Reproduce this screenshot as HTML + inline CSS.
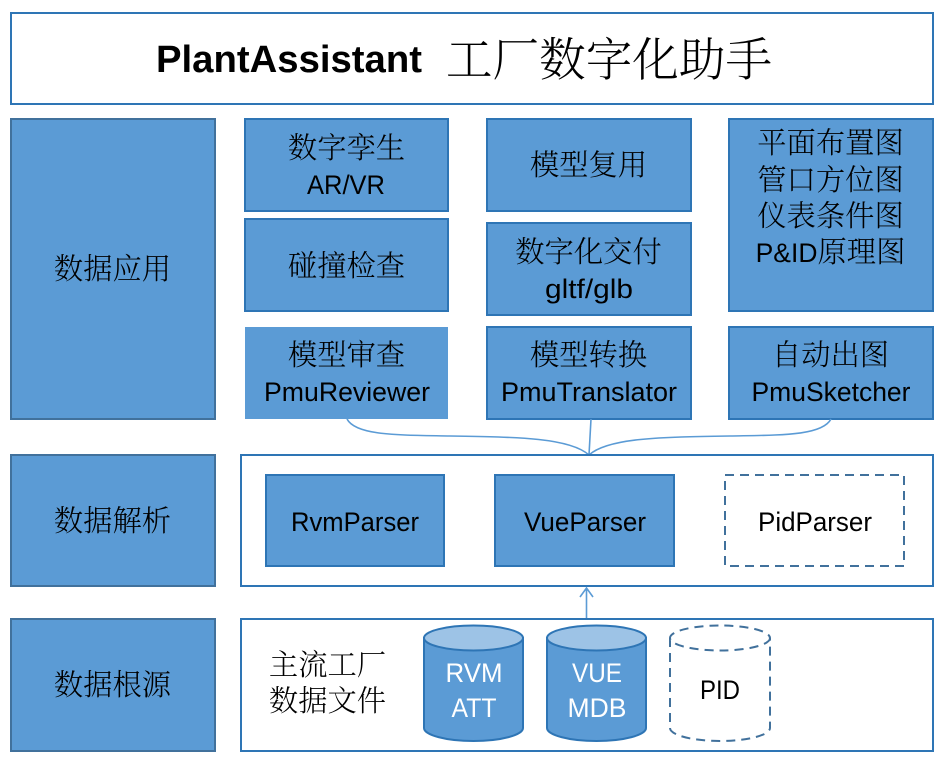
<!DOCTYPE html>
<html>
<head>
<meta charset="utf-8">
<style>
html,body{margin:0;padding:0;background:#fff;width:948px;height:762px;overflow:hidden}
svg{display:block}
.b{fill:#5b9bd5;stroke:#2e75b5;stroke-width:2}
.g{fill:#5b9bd5;stroke:#41719c;stroke-width:2}
.w{fill:#fff;stroke:#2e75b5;stroke-width:2}
text{fill:#000;text-anchor:middle}
.c{font-family:"Noto Serif CJK SC","Liberation Serif",serif;font-size:29.3px;font-weight:300}
.l{font-family:"Liberation Sans","Noto Sans CJK SC",sans-serif;font-size:26.5px;font-weight:400}
</style>
</head>
<body>
<svg width="948" height="762" viewBox="0 0 948 762" xmlns="http://www.w3.org/2000/svg">
<rect class="w" x="11" y="13" width="922" height="91"/>
<text x="289" y="72" style="font-family:'Liberation Sans',sans-serif;font-weight:bold;font-size:38px" textLength="266" lengthAdjust="spacingAndGlyphs">PlantAssistant</text>
<text x="609" y="76" class="c" style="font-size:46.6px">工厂数字化助手</text>

<rect class="g" x="11" y="119" width="204" height="300"/>
<text x="112.500" y="279" class="c">数据应用</text>
<rect class="g" x="11" y="455" width="204" height="131"/>
<text x="112.500" y="531" class="c">数据解析</text>
<rect class="g" x="11" y="619" width="204" height="132"/>
<text x="112.500" y="695" class="c">数据根源</text>

<rect class="b" x="245" y="119" width="203" height="92"/>
<text x="346.500" y="158" class="c">数字孪生</text>
<text x="346" y="194" class="l" textLength="78" lengthAdjust="spacingAndGlyphs">AR/VR</text>
<rect class="b" x="245" y="219" width="203" height="92"/>
<text x="346.500" y="276" class="c">碰撞检查</text>
<rect x="245" y="327" width="203" height="92" fill="#5b9bd5"/>
<text x="346.500" y="365" class="c">模型审查</text>
<text x="347" y="401" class="l" textLength="166" lengthAdjust="spacingAndGlyphs">PmuReviewer</text>

<rect class="b" x="487" y="119" width="204" height="92"/>
<text x="588.500" y="175" class="c">模型复用</text>
<rect class="b" x="487" y="223" width="204" height="92"/>
<text x="588.500" y="262" class="c">数字化交付</text>
<text x="589" y="298" class="l" textLength="88" lengthAdjust="spacingAndGlyphs">gltf/glb</text>
<rect class="b" x="487" y="327" width="204" height="92"/>
<text x="588.500" y="365" class="c">模型转换</text>
<text x="589" y="401" class="l" textLength="176" lengthAdjust="spacingAndGlyphs">PmuTranslator</text>

<rect class="b" x="729" y="119" width="204" height="192"/>
<text x="830.500" y="153" class="c">平面布置图</text>
<text x="830.500" y="190" class="c">管口方位图</text>
<text x="830.500" y="226" class="c">仪表条件图</text>
<text x="830.500" y="262" class="c"><tspan class="l" style="font-size:26.5px">P&amp;ID</tspan>原理图</text>
<rect class="b" x="729" y="327" width="204" height="92"/>
<text x="830.500" y="365" class="c">自动出图</text>
<text x="831" y="401" class="l" textLength="159" lengthAdjust="spacingAndGlyphs">PmuSketcher</text>

<path d="M347 419 C356 436 400 435 450 436 C520 437 570 438 589 455 C608 438 660 437 730 436 C780 435 822 436 831 419 M591 419 L589 455" fill="none" stroke="#5b9bd5" stroke-width="1.6"/>

<rect class="w" x="241" y="455" width="692" height="131"/>
<rect class="b" x="266" y="475" width="178" height="91"/>
<text x="355" y="531" class="l" textLength="128" lengthAdjust="spacingAndGlyphs">RvmParser</text>
<rect class="b" x="495" y="475" width="179" height="91"/>
<text x="585" y="531" class="l" textLength="122" lengthAdjust="spacingAndGlyphs">VueParser</text>
<rect x="725" y="475" width="179" height="91" fill="#fff" stroke="#41719c" stroke-width="2" stroke-dasharray="9 6"/>
<text x="815" y="531" class="l" textLength="114" lengthAdjust="spacingAndGlyphs">PidParser</text>

<path d="M586.500 619 V588 M580 597 L586.500 588 L593 597" fill="none" stroke="#5b9bd5" stroke-width="1.6"/>

<rect class="w" x="241" y="619" width="692" height="132"/>
<text x="327.500" y="675" class="c">主流工厂</text>
<text x="327.500" y="711" class="c">数据文件</text>

<path d="M424 638 V728 C424 735 446 741 473.500 741 C501 741 523 735 523 728 V638 Z" class="b"/>
<ellipse cx="473.500" cy="638" rx="49.500" ry="12.500" fill="#9dc3e6" stroke="#2e75b5" stroke-width="2"/>
<text x="474" y="682" class="l" style="fill:#fff" textLength="57" lengthAdjust="spacingAndGlyphs">RVM</text>
<text x="474" y="717" class="l" style="fill:#fff" textLength="45" lengthAdjust="spacingAndGlyphs">ATT</text>

<path d="M547 638 V728 C547 735 569 741 596.500 741 C624 741 646 735 646 728 V638 Z" class="b"/>
<ellipse cx="596.500" cy="638" rx="49.500" ry="12.500" fill="#9dc3e6" stroke="#2e75b5" stroke-width="2"/>
<text x="597" y="682" class="l" style="fill:#fff" textLength="50" lengthAdjust="spacingAndGlyphs">VUE</text>
<text x="597" y="717" class="l" style="fill:#fff" textLength="59" lengthAdjust="spacingAndGlyphs">MDB</text>

<path d="M670 638 V728 C670 735 692 741 720 741 C748 741 770 735 770 728 V638" fill="#fff" stroke="#41719c" stroke-width="2" stroke-dasharray="9 6"/>
<ellipse cx="720" cy="638" rx="50" ry="12.500" fill="#fff" stroke="#41719c" stroke-width="2" stroke-dasharray="9 6"/>
<text x="720" y="699" class="l" textLength="40" lengthAdjust="spacingAndGlyphs">PID</text>
</svg>
</body>
</html>
